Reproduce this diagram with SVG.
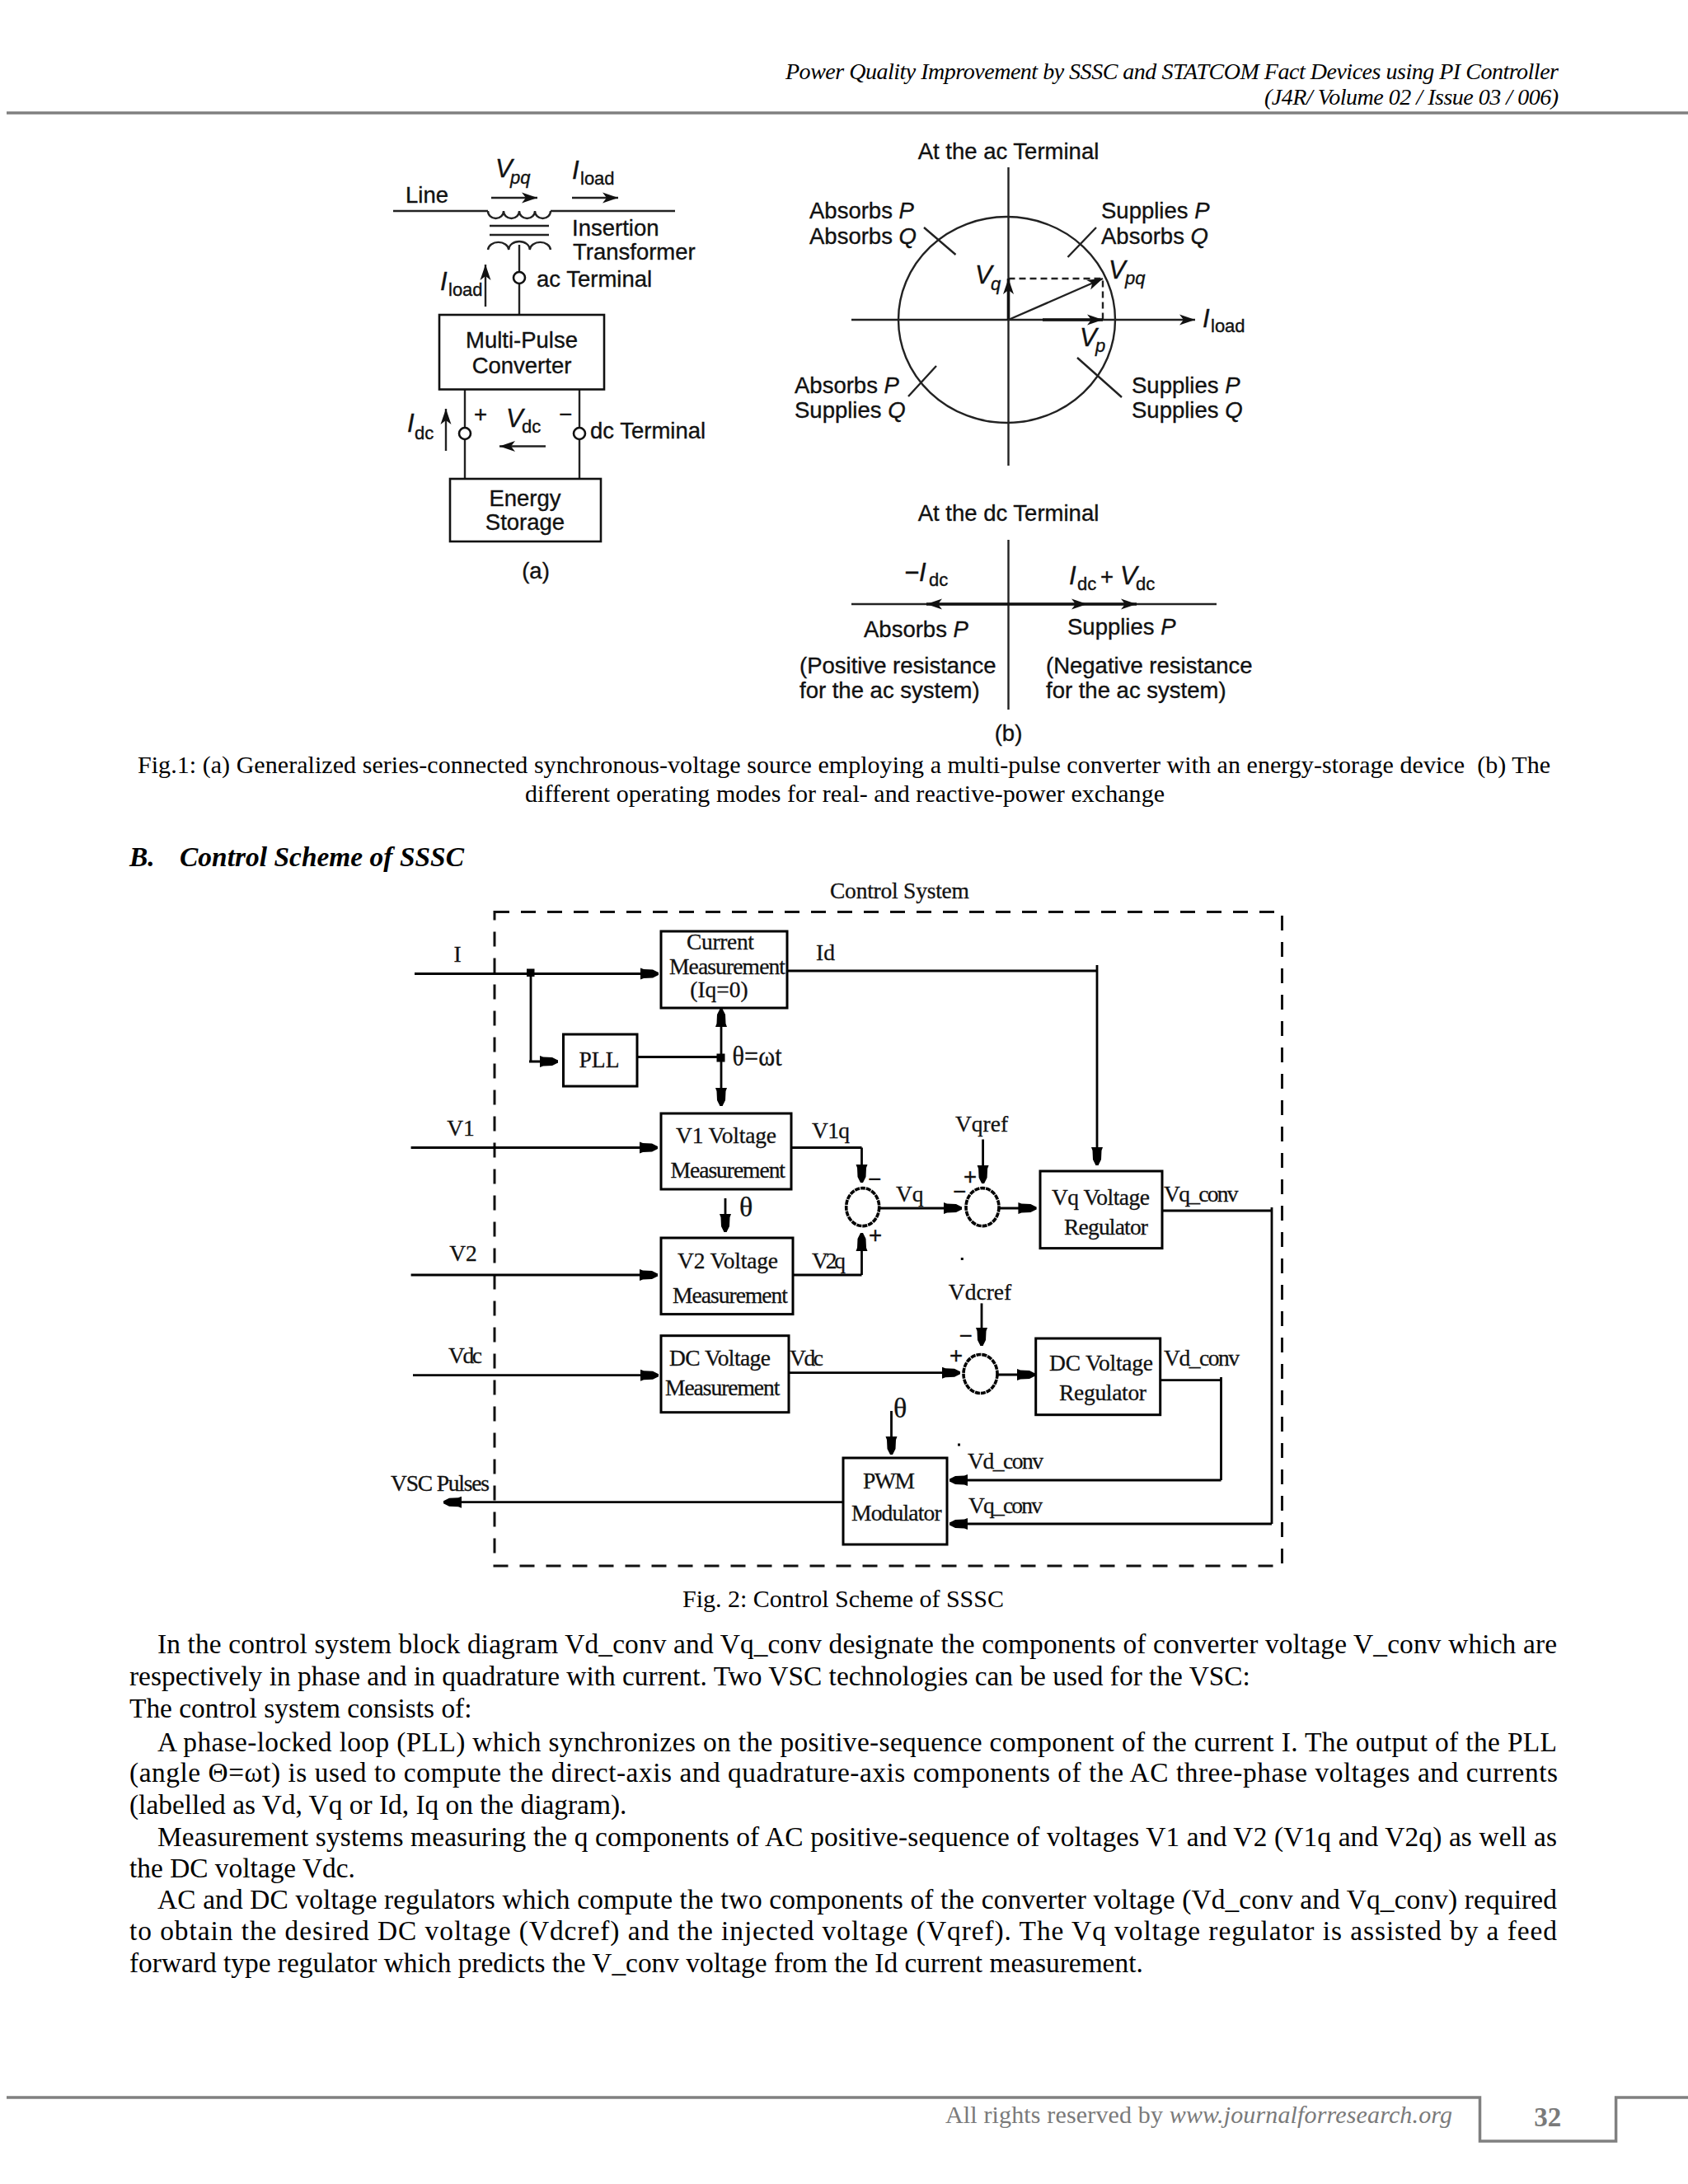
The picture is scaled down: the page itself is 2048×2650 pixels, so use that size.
<svg xmlns="http://www.w3.org/2000/svg" width="2048" height="2650" viewBox="0 0 2048 2650">
<style>
text{fill:#000}
.s{font-family:"Liberation Sans",Arial,sans-serif;font-size:27.5px;fill:#111;stroke:#111;stroke-width:.35}
.si{font-style:italic}
.sub{font-size:22px}
.big{font-size:31px;font-style:italic}
.f{font-family:"Liberation Serif","Times New Roman",serif;font-size:27.5px;fill:#111;stroke:#111;stroke-width:.3}
.th{font-size:34px}
.b{font-family:"Liberation Serif","Times New Roman",serif;font-size:33.4px}
.c{font-family:"Liberation Serif","Times New Roman",serif;font-size:30px}
.h{font-family:"Liberation Serif","Times New Roman",serif;font-size:28px;font-style:italic}
.g{font-family:"Liberation Serif","Times New Roman",serif;font-size:30px;fill:#7a7a7a}
.m{text-anchor:middle}
.box{fill:#fff;stroke:#111;stroke-width:2.6}
.w{fill:none;stroke:#222;stroke-width:2.4}
.t{fill:none;stroke:#111;stroke-width:3.6}
.wa{fill:none;stroke:#222;stroke-width:2.4;marker-end:url(#a)}
.ta{fill:none;stroke:#111;stroke-width:3.6;marker-end:url(#a)}
.l{fill:none;stroke:#000;stroke-width:2.8}
.la{fill:none;stroke:#000;stroke-width:2.8;marker-end:url(#b)}
.bx{fill:#fff;stroke:#000;stroke-width:3}
.sum{fill:#fff;stroke:#000;stroke-width:3.6;stroke-dasharray:6 1}
.fr{fill:none;stroke:#111;stroke-width:3;stroke-dasharray:18 14}
.r{fill:none;stroke:#808080;stroke-width:3.5}
.d{fill:#000}
</style>
<defs>
<marker id="a" markerUnits="userSpaceOnUse" viewBox="0 -8 20 16" markerWidth="20" markerHeight="16" refX="19" refY="0" orient="auto"><path d="M0,-6.500 L19,0 L0,6.500 L5,0 Z" fill="#111"/></marker>
<marker id="b" markerUnits="userSpaceOnUse" viewBox="0 -8 23 16" markerWidth="23" markerHeight="16" refX="22" refY="0" orient="auto"><path d="M0,-7 L4,-5.500 L15,-5 L22,-1.500 L22,1.500 L15,5 L4,5.500 L0,7 Z" fill="#000"/></marker>
</defs>
<rect width="2048" height="2650" fill="#fff"/>

<g id="page-header">
<text class="h" x="953" y="96" textLength="938">Power Quality Improvement by SSSC and STATCOM Fact Devices using PI Controller</text>
<text class="h" x="1534" y="127" textLength="357">(J4R/ Volume 02 / Issue 03 / 006)</text>
<path class="r" d="M8,137 H2048"/>
</g>

<g id="fig1a-connectors">
<path class="w" d="M477,256 H592 M668,256 H819"/>
<path class="w" d="M592,256 a9.500,9 0 0 0 19,0 a9.500,9 0 0 0 19,0 a9.500,9 0 0 0 19,0 a9.500,9 0 0 0 19,0"/>
<path class="w" d="M594,274 H666 M594,285 H666"/>
<path class="w" d="M592,303 a12.700,10 0 0 1 25.300,0 a12.700,10 0 0 1 25.400,0 a12.700,10 0 0 1 25.300,0"/>
<path class="w" d="M630,297 V382 M564,472 V581 M703,472 V581"/>
<path class="wa" d="M596,240 H652"/>
<path class="wa" d="M694,240 H750"/>
<path class="wa" d="M589,372 V321"/>
<path class="wa" d="M541,547 V496"/>
<path class="wa" d="M662,541.500 H606"/>
<circle class="box" cx="630" cy="337" r="7"/>
<circle class="box" cx="564" cy="526" r="7"/>
<circle class="box" cx="703" cy="526" r="7"/>
</g>
<g id="multi-pulse-converter"><rect class="box" x="533" y="382" width="200" height="90.500"/>
<text class="s m" x="633" y="422">Multi-Pulse</text><text class="s m" x="633" y="453">Converter</text></g>
<g id="energy-storage"><rect class="box" x="546" y="581" width="183" height="76"/>
<text class="s m" x="637" y="614">Energy</text><text class="s m" x="637" y="643">Storage</text></g>
<g id="fig1a-labels">
<text class="s" x="492" y="246">Line</text>
<text class="s"><tspan class="big" x="601" y="215">V</tspan><tspan class="sub si" x="619" y="223">pq</tspan></text>
<text class="s"><tspan class="big" x="694" y="217">I</tspan><tspan class="sub" x="704" y="224">load</tspan></text>
<text class="s" x="694" y="286">Insertion</text>
<text class="s" x="695" y="315">Transformer</text>
<text class="s" x="651" y="348">ac Terminal</text>
<text class="s"><tspan class="big" x="534" y="352">I</tspan><tspan class="sub" x="544" y="359">load</tspan></text>
<text class="s"><tspan class="big" x="494" y="524">I</tspan><tspan class="sub" x="503" y="533">dc</tspan></text>
<text class="s m" x="583" y="512">+</text>
<text class="s m" x="686" y="512">−</text>
<text class="s"><tspan class="big" x="614" y="518">V</tspan><tspan class="sub" x="633" y="525">dc</tspan></text>
<text class="s" x="716" y="532">dc Terminal</text>
<text class="s m" x="650" y="702">(a)</text>
</g>

<g id="fig1b-ac-connectors">
<ellipse class="w" cx="1221.500" cy="388" rx="131.500" ry="125"/>
<path class="w" d="M1223.500,203 V565"/>
<path class="wa" d="M1033,388 H1450"/>
<path class="w" d="M1121,276 L1159.500,309 M1330,276 L1295.500,312 M1136,444 L1102,481 M1307,434 L1361,482"/>
<path class="w" d="M1223.500,338 H1338 V388" stroke-dasharray="8 5"/>
<path class="ta" d="M1223.500,388 V338"/>
<path class="wa" d="M1223.500,388 L1338,338"/>
<path class="ta" d="M1265,388 H1338"/>
</g>
<g id="fig1b-ac-labels">
<text class="s m" x="1223.500" y="193">At the ac Terminal</text>
<text class="s" x="982" y="265">Absorbs <tspan class="si">P</tspan></text>
<text class="s" x="982" y="296">Absorbs <tspan class="si">Q</tspan></text>
<text class="s" x="1336" y="265">Supplies <tspan class="si">P</tspan></text>
<text class="s" x="1336" y="296">Absorbs <tspan class="si">Q</tspan></text>
<text class="s" x="964" y="477">Absorbs <tspan class="si">P</tspan></text>
<text class="s" x="964" y="507">Supplies <tspan class="si">Q</tspan></text>
<text class="s" x="1373" y="477">Supplies <tspan class="si">P</tspan></text>
<text class="s" x="1373" y="507">Supplies <tspan class="si">Q</tspan></text>
<text class="s"><tspan class="big" x="1183" y="344">V</tspan><tspan class="sub si" x="1202" y="352">q</tspan></text>
<text class="s"><tspan class="big" x="1345" y="338">V</tspan><tspan class="sub si" x="1365" y="345">pq</tspan></text>
<text class="s"><tspan class="big" x="1310" y="420">V</tspan><tspan class="sub si" x="1329" y="427">p</tspan></text>
<text class="s"><tspan class="big" x="1459" y="397">I</tspan><tspan class="sub" x="1469" y="403">load</tspan></text>
</g>

<g id="fig1b-dc-connectors">
<path class="w" d="M1223.500,655 V861 M1033,733 H1476"/>
<path class="ta" d="M1223.500,733 H1124"/>
<path class="ta" d="M1223.500,733 H1319"/>
<path class="ta" d="M1319,733 H1379"/>
</g>
<g id="fig1b-dc-labels">
<text class="s m" x="1223.500" y="632">At the dc Terminal</text>
<text class="s"><tspan class="big" x="1097" y="705">−I</tspan><tspan class="sub" x="1127" y="711">dc</tspan></text>
<text class="s"><tspan class="big" x="1297" y="709">I</tspan><tspan class="sub" x="1307" y="716">dc</tspan><tspan x="1335" y="709">+</tspan><tspan class="big" x="1359" y="709">V</tspan><tspan class="sub" x="1378" y="716">dc</tspan></text>
<text class="s" x="1048" y="773">Absorbs <tspan class="si">P</tspan></text>
<text class="s" x="1295" y="770">Supplies <tspan class="si">P</tspan></text>
<text class="s" x="970" y="817">(Positive resistance</text>
<text class="s" x="970" y="847">for the ac system)</text>
<text class="s" x="1269" y="817">(Negative resistance</text>
<text class="s" x="1269" y="847">for the ac system)</text>
<text class="s m" x="1223.500" y="899">(b)</text>
</g>

<g id="captions">
<text class="c" x="167" y="938" textLength="1714">Fig.1: (a) Generalized series-connected synchronous-voltage source employing a multi-pulse converter with an energy-storage device&#160; (b) The</text>
<text class="c" x="637" y="973" textLength="776">different operating modes for real- and reactive-power exchange</text>
<text class="b" x="157" y="1051" font-weight="bold" font-style="italic">B.</text>
<text class="b" x="218" y="1051" font-weight="bold" font-style="italic" textLength="345">Control Scheme of SSSC</text>
<text class="c" x="828" y="1950" textLength="390">Fig. 2: Control Scheme of SSSC</text>
</g>

<g id="fig2-frame"><rect class="fr" x="600" y="1106.500" width="955.500" height="793.500"/>
<text class="f" x="1007" y="1090" textLength="169">Control System</text></g>

<g id="fig2-connectors">
<path class="la" d="M503,1181.500 H799"/>
<path class="l" d="M644,1181 V1288"/>
<path class="la" d="M642,1288 H677"/>
<path class="l" d="M769,1282.500 H875"/>
<path class="la" d="M875,1283 V1224"/>
<path class="la" d="M875,1283 V1342"/>
<path class="la" d="M498.600,1392.500 H798"/>
<path class="la" d="M880,1454 V1495"/>
<path class="la" d="M498.600,1547 H798"/>
<path class="la" d="M501,1668.700 H799"/>
<path class="l" d="M955,1178 H1331"/>
<path class="la" d="M1331,1171 V1414"/>
<path class="l" d="M960,1392.500 H1045.500"/>
<path class="la" d="M1045.500,1392.500 V1435"/>
<path class="l" d="M962,1547 H1045.500"/>
<path class="la" d="M1045.500,1547 V1496"/>
<path class="la" d="M1068,1466 H1167"/>
<path class="la" d="M1192.600,1382.500 V1436"/>
<path class="la" d="M1213,1466 H1257.400"/>
<path class="l" d="M1407,1469 H1543 M1543,1465 V1849"/>
<path class="la" d="M1543,1849 H1152"/>
<path class="la" d="M1191,1581.400 V1633"/>
<path class="la" d="M954,1665.700 H1165"/>
<path class="la" d="M1210,1668 H1256"/>
<path class="l" d="M1405.600,1674.700 H1481.500 M1481.500,1671 V1796"/>
<path class="la" d="M1481.500,1796 H1152"/>
<path class="la" d="M1081.500,1712 V1765"/>
<path class="la" d="M1023,1822.700 H538"/>
<rect class="d" x="639" y="1175.500" width="9.500" height="9.500"/>
<rect class="d" x="869.500" y="1278.500" width="10" height="10"/>
<rect class="d" x="1165.800" y="1526" width="3" height="3"/>
<rect class="d" x="1162" y="1751.500" width="3" height="3"/>
</g>

<g id="current-measurement"><rect class="bx" x="802" y="1130" width="153" height="93"/>
<text class="f m" x="874" y="1152" textLength="82">Current</text><text class="f" x="812" y="1182" textLength="141">Measurement</text><text class="f m" x="872.500" y="1210">(Iq=0)</text></g>
<g id="pll"><rect class="bx" x="683.500" y="1255" width="89.500" height="63"/><text class="f m" x="727" y="1295">PLL</text></g>
<g id="v1-voltage-measurement"><rect class="bx" x="802" y="1351" width="158" height="92"/>
<text class="f" x="820" y="1387" textLength="122">V1 Voltage</text><text class="f" x="813.600" y="1429" textLength="139.400">Measurement</text></g>
<g id="v2-voltage-measurement"><rect class="bx" x="802" y="1502" width="160" height="92.600"/>
<text class="f" x="822" y="1538.600" textLength="122">V2 Voltage</text><text class="f" x="816" y="1581" textLength="140">Measurement</text></g>
<g id="dc-voltage-measurement"><rect class="bx" x="802" y="1620.700" width="155" height="93"/>
<text class="f" x="812" y="1657" textLength="123">DC Voltage</text><text class="f" x="807" y="1693" textLength="139.400">Measurement</text></g>
<g id="vq-voltage-regulator"><rect class="bx" x="1262" y="1421" width="148" height="93.600"/>
<text class="f" x="1276" y="1462" textLength="119">Vq Voltage</text><text class="f" x="1291" y="1497.500" textLength="102">Regulator</text></g>
<g id="dc-voltage-regulator"><rect class="bx" x="1256.700" y="1624" width="151" height="92.700"/>
<text class="f" x="1273" y="1663" textLength="126">DC Voltage</text><text class="f" x="1285" y="1699" textLength="106">Regulator</text></g>
<g id="pwm-modulator"><rect class="bx" x="1023" y="1769" width="126" height="105"/>
<text class="f" x="1047" y="1805.700" textLength="63">PWM</text><text class="f" x="1033" y="1845" textLength="109.600">Modulator</text></g>
<g id="sum-1"><ellipse class="sum" cx="1046.700" cy="1464.600" rx="20" ry="23"/></g>
<g id="sum-2"><ellipse class="sum" cx="1192" cy="1464.600" rx="20" ry="23"/></g>
<g id="sum-3"><ellipse class="sum" cx="1189.500" cy="1667" rx="20.500" ry="23.500"/></g>

<g id="fig2-labels">
<text class="f m" x="555" y="1167">I</text>
<text class="f m" x="559" y="1378">V1</text>
<text class="f m" x="562" y="1530">V2</text>
<text class="f" x="544" y="1654" textLength="41">Vdc</text>
<text class="f" x="474" y="1809" textLength="120">VSC Pulses</text>
<text class="f" x="990" y="1165">Id</text>
<text class="f th" x="888.600" y="1293" textLength="60" lengthAdjust="spacingAndGlyphs">θ=ωt</text>
<text class="f th" x="897" y="1476">θ</text>
<text class="f" x="985" y="1381" textLength="46">V1q</text>
<text class="f" x="985" y="1538.600" textLength="41">V2q</text>
<text class="f" x="1087" y="1458">Vq</text>
<text class="f m" x="1191" y="1372.500">Vqref</text>
<text class="f m" x="1189" y="1577">Vdcref</text>
<text class="f" x="958" y="1657" textLength="41">Vdc</text>
<text class="f" x="1412" y="1458" textLength="90.600">Vq_conv</text>
<text class="f" x="1412" y="1657" textLength="92">Vd_conv</text>
<text class="f" x="1174" y="1782" textLength="92">Vd_conv</text>
<text class="f" x="1175" y="1836" textLength="90">Vq_conv</text>
<text class="f th" x="1084" y="1720">θ</text>
<text class="s m" x="1061" y="1440">−</text>
<text class="s m" x="1062" y="1508">+</text>
<text class="s m" x="1177" y="1437">+</text>
<text class="s m" x="1164" y="1455">−</text>
<text class="s m" x="1160" y="1654">+</text>
<text class="s m" x="1171.500" y="1630">−</text>
</g>

<g id="body-text">
<text class="b" x="191" y="2006" textLength="1698">In the control system block diagram Vd_conv and Vq_conv designate the components of converter voltage V_conv which are</text>
<text class="b" x="157" y="2045">respectively in phase and in quadrature with current. Two VSC technologies can be used for the VSC:</text>
<text class="b" x="157" y="2084">The control system consists of:</text>
<text class="b" x="191" y="2124.500" textLength="1698">A phase-locked loop (PLL) which synchronizes on the positive-sequence component of the current I. The output of the PLL</text>
<text class="b" x="157" y="2161.500" textLength="1733">(angle Θ=ωt) is used to compute the direct-axis and quadrature-axis components of the AC three-phase voltages and currents</text>
<text class="b" x="157" y="2200.500">(labelled as Vd, Vq or Id, Iq on the diagram).</text>
<text class="b" x="191" y="2239.500" textLength="1698">Measurement systems measuring the q components of AC positive-sequence of voltages V1 and V2 (V1q and V2q) as well as</text>
<text class="b" x="157" y="2277.500">the DC voltage Vdc.</text>
<text class="b" x="191" y="2315.500" textLength="1698">AC and DC voltage regulators which compute the two components of the converter voltage (Vd_conv and Vq_conv) required</text>
<text class="b" x="157" y="2353.500" textLength="1732">to obtain the desired DC voltage (Vdcref) and the injected voltage (Vqref). The Vq voltage regulator is assisted by a feed</text>
<text class="b" x="157" y="2392.500">forward type regulator which predicts the V_conv voltage from the Id current measurement.</text>
</g>

<g id="page-footer">
<path class="r" d="M8,2545 H1795.500 V2598 H1960.600 V2545 H2048"/>
<text class="g" x="1147" y="2576" textLength="615">All rights reserved by <tspan font-style="italic">www.journalforresearch.org</tspan></text>
<text class="g m" x="1877.700" y="2580" font-weight="bold" style="font-size:33px">32</text>
</g>
</svg>
